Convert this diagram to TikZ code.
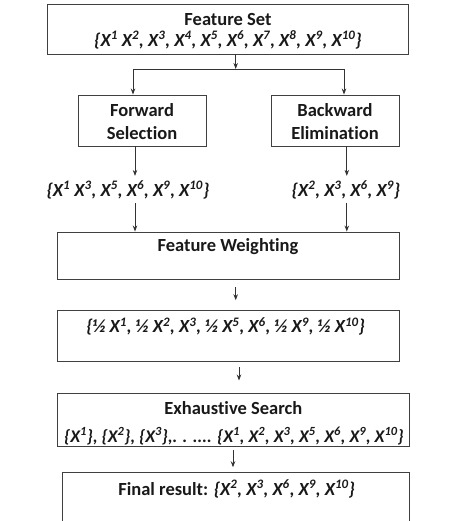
\documentclass[tikz,border=0pt]{standalone}
\usepackage{fontspec}
\setmainfont[RawFeature={-liga;-clig}]{Carlito}
\usetikzlibrary{arrows.meta}
\newcommand{\Xsup}[1]{X\textsuperscript{#1}}
\tikzset{
  box/.style={draw=black!75, line width=0.9bp, rectangle, inner sep=0pt},
  txt/.style={font=\fontsize{18.5bp}{22.5bp}\selectfont\bfseries, inner sep=1bp, text=black!90, align=center},
  settxt/.style={txt, font=\fontsize{18.5bp}{22.5bp}\selectfont\bfseries\itshape},
  arr/.style={draw=black!80, line width=0.8bp, -{Stealth[length=6bp,width=4.5bp]}},
  ln/.style={draw=black!80, line width=0.8bp}
}
\begin{document}
\begin{tikzpicture}[x=1bp,y=-1bp]
\useasboundingbox (0,0) rectangle (474,521);
% boxes
\node[box, minimum width=361bp, minimum height=50bp] (fs) at (227.8,29) {};
\node[box, minimum width=127.7bp, minimum height=51bp] (fwd) at (142.2,120.5) {};
\node[box, minimum width=128.3bp, minimum height=51bp] (bwd) at (335.2,120.5) {};
\node[box, minimum width=342bp, minimum height=47bp] (fw) at (228.3,255.5) {};
\node[box, minimum width=342bp, minimum height=50.3bp] (wt) at (228.3,335.8) {};
\node[box, minimum width=352bp, minimum height=53.7bp] (ex) at (233.3,419.8) {};
\node[box, minimum width=346.3bp, minimum height=80bp] (fin) at (235.8,512.7) {};
% texts
\node[txt] (fst) at (228,20) {Feature Set};
\node[settxt] (fss) at (228,40) {\{\Xsup{1} \Xsup{2}, \Xsup{3}, \Xsup{4}, \Xsup{5}, \Xsup{6}, \Xsup{7}, \Xsup{8}, \Xsup{9}, \Xsup{10}\}};
\node[txt] (fwdt) at (142,121.5) {Forward\\Selection};
\node[txt] (bwdt) at (335,121.5) {Backward\\Elimination};
\node[settxt] (fwds) at (128,190) {\{\Xsup{1} \Xsup{3}, \Xsup{5}, \Xsup{6}, \Xsup{9}, \Xsup{10}\}};
\node[settxt] (bwds) at (346,190) {\{\Xsup{2}, \Xsup{3}, \Xsup{6}, \Xsup{9}\}};
\node[txt] (fwt) at (228,247) {Feature Weighting};
\node[settxt] (wts) at (225.7,326.7) {\{½ \Xsup{1}, ½ \Xsup{2}, \Xsup{3}, ½ \Xsup{5}, \Xsup{6}, ½ \Xsup{9}, ½ \Xsup{10}\}};
\node[txt] (ext) at (233.3,408) {Exhaustive Search};
\node[settxt, font=\fontsize{17.8bp}{22.5bp}\selectfont\bfseries\itshape] (exs) at (234,436) {\{\Xsup{1}\}, \{\Xsup{2}\}, \{\Xsup{3}\},. . .... \{\Xsup{1}, \Xsup{2}, \Xsup{3}, \Xsup{5}, \Xsup{6}, \Xsup{9}, \Xsup{10}\}};
\node[txt] (fint) at (236.7,489) {Final result: {\itshape\{\Xsup{2}, \Xsup{3}, \Xsup{6}, \Xsup{9}, \Xsup{10}\}}};
% column coordinates
\coordinate (cM) at (235.7,69);
\coordinate (cL) at (133,69);
\coordinate (cR) at (344,69);
\coordinate (dL) at (135,0);
\coordinate (dR) at (346.8,0);
\coordinate (eM) at (235.7,0);
\coordinate (gM) at (239,0);
\coordinate (hM) at (233,0);
% connectors
\draw[arr] (fs.south -| cM) -- (cM);
\draw[ln] (cL) -- (cR);
\draw[arr] (cL) -- (fwd.north -| cL);
\draw[arr] (cR) -- (bwd.north -| cR);
\draw[arr, shorten >=4bp] (fwd.south -| dL) -- (fwds.north -| dL);
\draw[arr, shorten >=4bp] (bwd.south -| dR) -- (bwds.north -| dR);
\draw[arr, shorten <=3bp] (fwds.south -| dL) -- (fw.north -| dL);
\draw[arr, shorten <=3bp] (bwds.south -| dR) -- (fw.north -| dR);
\draw[arr, shorten <=8bp, shorten >=10bp] (fw.south -| eM) -- (wt.north -| eM);
\draw[arr, shorten <=6bp, shorten >=12bp] (wt.south -| gM) -- (ex.north -| gM);
\draw[arr, shorten <=3bp, shorten >=5bp] (ex.south -| hM) -- (fin.north -| hM);
\end{tikzpicture}
\end{document}
